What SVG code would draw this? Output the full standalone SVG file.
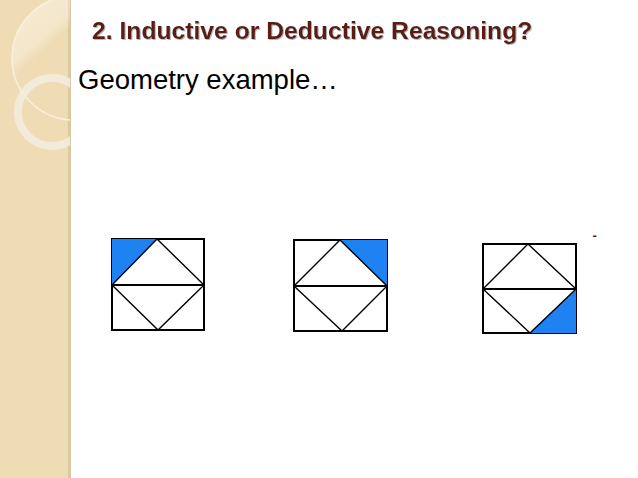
<svg xmlns="http://www.w3.org/2000/svg" width="638" height="478" viewBox="0 0 638 478">
  <defs>
    <clipPath id="panelClip"><rect x="0" y="0" width="70" height="478"/></clipPath>
    <linearGradient id="glow" x1="0" y1="0" x2="0.6" y2="0.7">
      <stop offset="0" stop-color="#ffffff" stop-opacity="0.5"/>
      <stop offset="0.45" stop-color="#ffffff" stop-opacity="0.28"/>
      <stop offset="0.55" stop-color="#ffffff" stop-opacity="0"/>
    </linearGradient>
    <filter id="shadow" x="-5%" y="-20%" width="110%" height="140%">
      <feDropShadow dx="1" dy="1" stdDeviation="0.6" flood-color="#999999" flood-opacity="0.7"/>
    </filter>
  </defs>
  <style>
    .sq { fill: #ffffff; stroke: #000000; stroke-width: 2; }
    .ln { stroke: #000000; stroke-width: 1.4; fill: none; }
    .mid { stroke: #000000; stroke-width: 2; }
    .blue { fill: #1f82f2; stroke: none; }
    .title { font-family: "Liberation Sans", Arial, sans-serif; font-weight: bold; font-size: 24.7px; fill: #5b1f14; }
    .body { font-family: "Liberation Sans", Arial, sans-serif; font-size: 27.5px; fill: #000000; }
  </style>
  <rect x="0" y="0" width="638" height="478" fill="#ffffff"/>
  <g id="panel">
    <rect x="0" y="0" width="70" height="478" fill="#efdcb4"/>
    <rect x="68" y="0" width="3" height="478" fill="#d9c8a4"/>
    <g clip-path="url(#panelClip)">
      <circle cx="74" cy="58" r="62" fill="url(#glow)" stroke="#f8f0e0" stroke-width="1.5"/>
      <circle cx="52" cy="112" r="34" fill="none" stroke="#f3ece0" stroke-opacity="0.85" stroke-width="8"/>
    </g>
  </g>
  <g id="title">
    <text class="title" x="92" y="39" filter="url(#shadow)">2. Inductive or Deductive Reasoning?</text>
  </g>
  <g id="subtitle">
    <text class="body" x="78" y="89">Geometry example…</text>
  </g>
  <g id="square1">
    <rect class="sq" x="112" y="239" width="92" height="91"/>
    <polygon class="blue" points="112,239 157,239 112,285"/>
    <line class="mid" x1="112" y1="285" x2="204" y2="285"/>
    <polyline class="ln" points="112,285 157,239 204,285 158,330 112,285"/>
  </g>
  <g id="square2">
    <rect class="sq" x="294" y="240" width="93" height="91"/>
    <polygon class="blue" points="340,240 387,240 387,286"/>
    <line class="mid" x1="294" y1="286" x2="387" y2="286"/>
    <polyline class="ln" points="294,286 340,240 387,286 342,331 294,286"/>
  </g>
  <g id="square3">
    <rect class="sq" x="483" y="244" width="93" height="89"/>
    <polygon class="blue" points="576,289 576,333 530,333"/>
    <line class="mid" x1="483" y1="289" x2="576" y2="289"/>
    <polyline class="ln" points="483,289 528,244 576,289 530,333 483,289"/>
  </g>
  <g id="mark">
    <text x="592.5" y="240" font-family="Liberation Sans, Arial, sans-serif" font-weight="bold" font-size="13" fill="#5b1f14">-</text>
  </g>
</svg>
